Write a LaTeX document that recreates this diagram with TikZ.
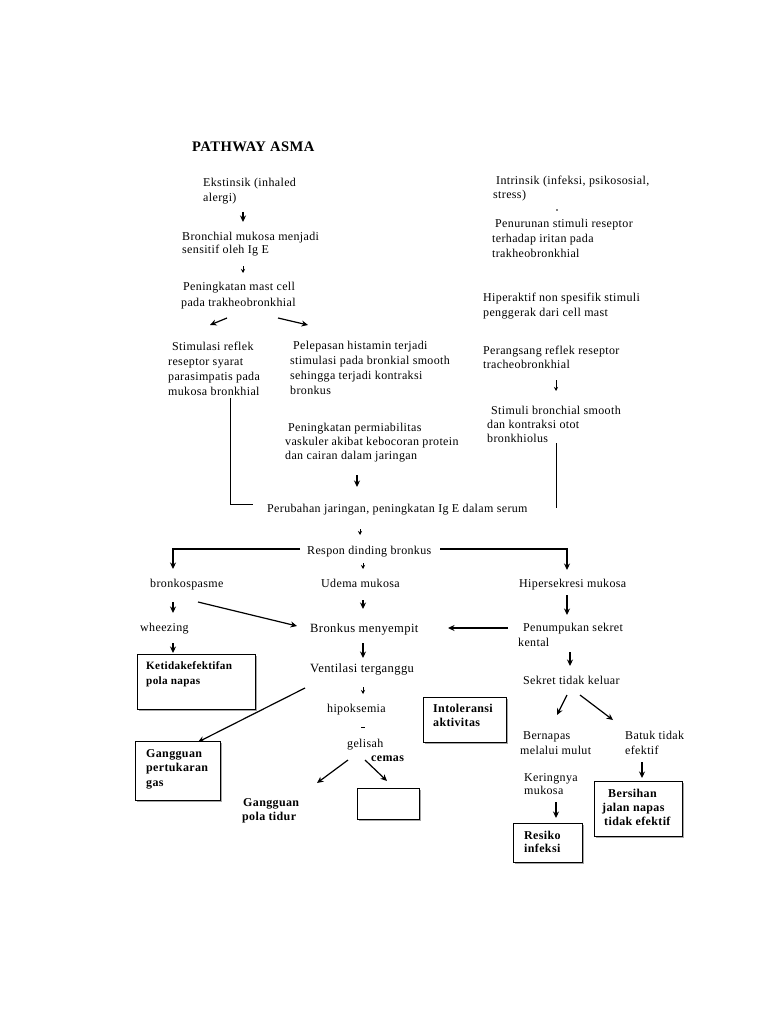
\documentclass[tikz,border=0pt]{standalone}
\usepackage{fontspec}
\setmainfont{Liberation Serif}[LetterSpace=3]
\usepackage{tikz}
\usetikzlibrary{arrows.meta}
\usetikzlibrary{shadows}
\tikzset{
  txt/.style={anchor=north west, inner sep=0pt, align=left, font=\fontsize{12}{15}\selectfont},
  boldtxt/.style={txt, font=\fontsize{12}{15}\selectfont\bfseries},
  diagbox/.style={anchor=north west, draw, fill=white, line width=0.8pt, inner sep=0pt, drop shadow={shadow xshift=1.6pt, shadow yshift=-1.6pt, fill=black!35, opacity=1}},
  arr/.style={black, line width=1.2pt, ->, >={Stealth[length=6.5pt,width=6pt]}},
  tinyarr/.style={black, line width=0.6pt, ->, >={Stealth[length=4pt,width=4pt]}},
  conn/.style={black, line width=0.9pt}
}

\begin{document}
\begin{tikzpicture}[x=1pt,y=-1pt]
\useasboundingbox (0,0) rectangle (768,1024);
\node[boldtxt, font=\fontsize{14.6}{16}\selectfont\bfseries] (title) at (192,142) {PATHWAY ASMA};
% left branch
\node[txt] (ekst) at (203,178) {Ekstinsik (inhaled\\alergi)};
\node[txt, font=\fontsize{12}{13}\selectfont] (bronch) at (182,232) {Bronchial mukosa menjadi\\sensitif oleh Ig E};
\node[txt, font=\fontsize{12}{16}\selectfont] (mast) at (181,282) {\hspace*{2pt}Peningkatan mast cell\\pada trakheobronkhial};
\node[txt] (stim) at (168,342) {\hspace*{4pt}Stimulasi reflek\\reseptor syarat\\parasimpatis pada\\mukosa bronkhial};
\node[txt] (pelep) at (290,341) {\hspace*{3pt}Pelepasan histamin terjadi\\stimulasi pada bronkial smooth\\sehingga terjadi kontraksi\\bronkus};
\node[txt, font=\fontsize{12}{14}\selectfont] (perm) at (285,423) {\hspace*{3pt}Peningkatan permiabilitas\\vaskuler akibat kebocoran protein\\dan cairan dalam jaringan};
\node[txt] (perub) at (267,504) {Perubahan jaringan, peningkatan Ig E dalam serum};
% right branch
\node[txt, font=\fontsize{12}{14}\selectfont] (intr) at (493,176) {\hspace*{3pt}Intrinsik (infeksi, psikososial,\\stress)};
\node[txt] (penur) at (492,219) {\hspace*{3pt}Penurunan stimuli reseptor\\terhadap iritan pada\\trakheobronkhial};
\node[txt] (hiper) at (483,293) {Hiperaktif non spesifik stimuli\\penggerak dari cell mast};
\node[txt, font=\fontsize{12}{13.5}\selectfont] (peran) at (483,346) {Perangsang reflek reseptor\\tracheobronkhial};
\node[txt, font=\fontsize{12}{14}\selectfont] (stimb) at (487,406) {\hspace*{4pt}Stimuli bronchial smooth\\dan kontraksi otot\\bronkhiolus};
% response
\node[txt] (respon) at (307,546) {Respon dinding bronkus};
\node[txt] (bronko) at (150,579) {bronkospasme};
\node[txt] (udema) at (321,579) {Udema mukosa};
\node[txt] (hipers) at (519,579) {Hipersekresi mukosa};
\node[txt] (wheez) at (140,623) {wheezing};
\node[txt, font=\fontsize{12.6}{15}\selectfont] (bronkus) at (310,624) {Bronkus menyempit};
\node[txt] (penum) at (518,623) {\hspace*{5pt}Penumpukan sekret\\kental};
\node[txt, font=\fontsize{12.6}{15}\selectfont] (venti) at (310,664) {Ventilasi terganggu};
\node[txt] (sekret) at (523,676) {Sekret tidak keluar};
\node[txt] (hipok) at (327,704) {hipoksemia};
\node[txt] (gelis) at (347,739) {gelisah};
\node[boldtxt] (cemas) at (371,756) {cemas};
\node[txt] (bernap) at (520,731) {\hspace*{3pt}Bernapas\\melalui mulut};
\node[txt] (batuk) at (625,731) {Batuk tidak\\efektif};
\node[txt, font=\fontsize{12}{13.5}\selectfont] (kering) at (524,773) {Keringnya\\mukosa};
\node[boldtxt, font=\fontsize{12}{14}\selectfont\bfseries] (polat) at (242,798) {\hspace*{1pt}Gangguan\\pola tidur};
% diagnosis boxes
\node[diagbox, minimum width=118, minimum height=55] (ketidbox) at (137,654) {};
\node[boldtxt, font=\fontsize{11.2}{15}\selectfont\bfseries] (ketid) at ([shift={(9,7)}]ketidbox.north west) {Ketidakefektifan\\pola napas};
\node[diagbox, minimum width=83, minimum height=45] (intolbox) at (423,697) {};
\node[boldtxt, font=\fontsize{12}{14}\selectfont\bfseries] (intol) at ([shift={(10,7)}]intolbox.north west) {Intoleransi\\aktivitas};
\node[diagbox, minimum width=85, minimum height=59] (ganggbox) at (135,741) {};
\node[boldtxt, font=\fontsize{12}{14.5}\selectfont\bfseries] (gangg) at ([shift={(11,8)}]ganggbox.north west) {Gangguan\\pertukaran\\gas};
\node[diagbox, minimum width=88, minimum height=55] (bersihbox) at (594,781) {};
\node[boldtxt, font=\fontsize{12}{14}\selectfont\bfseries] (bersih) at ([shift={(8,8)}]bersihbox.north west) {\hspace*{6pt}Bersihan\\jalan napas\\\hspace*{2pt}tidak efektif};
\node[diagbox, minimum width=62, minimum height=31] (emptybox) at (357,788) {};
\node[diagbox, minimum width=69, minimum height=39] (resikobox) at (513,823) {};
\node[boldtxt, font=\fontsize{12}{13}\selectfont\bfseries] (resiko) at ([shift={(11,8)}]resikobox.north west) {Resiko\\infeksi};
% connectors, upper part
\draw[arr] ([shift={(40,34)}]ekst.north west) -- ([shift={(61,-10)}]bronch.north west);
\draw[tinyarr] ([shift={(61,34)}]bronch.north west) -- ([shift={(62,-9)}]mast.north west);
\draw[arr] ([shift={(46,36)}]mast.north west) -- ([shift={(42,-17)}]stim.north west);
\draw[arr] ([shift={(97,36)}]mast.north west) -- ([shift={(18,-16)}]pelep.north west);
\draw[arr] ([shift={(72,52)}]perm.north west) -- ([shift={(90,-17)}]perub.north west);
\draw[conn] ([shift={(62,56)}]stim.north west) |- ([shift={(-14,0)}]perub.north west);
\fill ([shift={(64,34)}]intr.north west) circle (0.9);
\draw[tinyarr] ([shift={(73,34)}]peran.north west) -- ([shift={(69,-15)}]stimb.north west);
\draw[conn] ([shift={(69,37)}]stimb.north west) -- ([shift={(69,102)}]stimb.north west);
% connectors, lower part
\draw[tinyarr] ([shift={(93,25)}]perub.north west) -- ([shift={(53,-11)}]respon.north west);
\draw[arr] ([shift={(-7,3)}]respon.north west) -| ([shift={(23,-10)}]bronko.north west);
\draw[arr] ([shift={(133,3)}]respon.north west) -| ([shift={(48,-9)}]hipers.north west);
\draw[tinyarr] ([shift={(56,17)}]respon.north west) -- ([shift={(42,-10)}]udema.north west);
\draw[arr] ([shift={(23,23)}]bronko.north west) -- ([shift={(33,-10)}]wheez.north west);
\draw[arr] ([shift={(48,23)}]bronko.north west) -- ([shift={(-13,2)}]bronkus.north west);
\draw[arr] ([shift={(42,21)}]udema.north west) -- ([shift={(53,-15)}]bronkus.north west);
\draw[arr] ([shift={(48,16)}]hipers.north west) -- ([shift={(49,-8)}]penum.north west);
\draw[arr] ([shift={(-10,5)}]penum.north west) -- ([shift={(138,4)}]bronkus.north west);
\draw[arr] ([shift={(33,20)}]wheez.north west) -- ([shift={(36,-1)}]ketidbox.north west);
\draw[arr] ([shift={(53,19)}]bronkus.north west) -- ([shift={(53,-6)}]venti.north west);
\draw[arr] ([shift={(52,29)}]penum.north west) -- ([shift={(47,-10)}]sekret.north west);
\draw[arr] ([shift={(-5,24)}]venti.north west) -- ([shift={(63,1)}]ganggbox.north west);
\draw[tinyarr] ([shift={(53,23)}]venti.north west) -- ([shift={(36,-10)}]hipok.north west);
\draw[conn, line width=0.6pt] ([shift={(34,23)}]hipok.north west) -- ([shift={(18,-12)}]gelis.north west);
\draw[arr] ([shift={(44,19)}]sekret.north west) -- ([shift={(37,-16)}]bernap.north west);
\draw[arr] ([shift={(57,19)}]sekret.north west) -- ([shift={(-12,-11)}]batuk.north west);
\draw[arr] ([shift={(1,21)}]gelis.north west) -- ([shift={(75,-15)}]polat.north west);
\draw[arr] ([shift={(18,21)}]gelis.north west) -- ([shift={(30,-7)}]emptybox.north west);
\draw[arr] ([shift={(17,31)}]batuk.north west) -- ([shift={(48,-3)}]bersihbox.north west);
\draw[arr] ([shift={(32,29)}]kering.north west) -- ([shift={(43,-5)}]resikobox.north west);
\end{tikzpicture}
\end{document}
